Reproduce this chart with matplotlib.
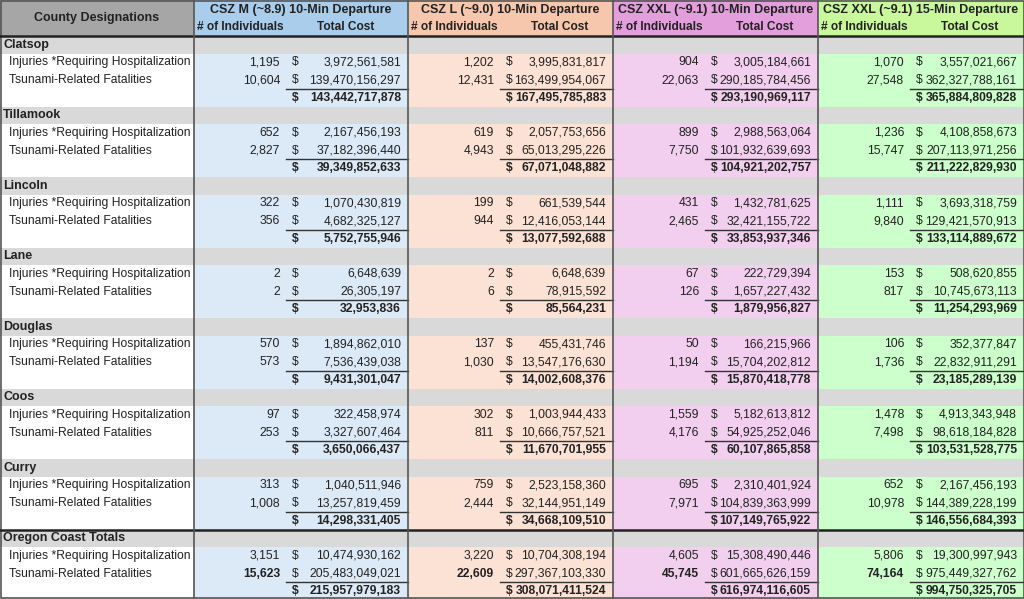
import matplotlib.pyplot as plt
import matplotlib.patches as pth

counties = ["Clatsop", "Tillamook", "Lincoln", "Lane", "Douglas", "Coos", "Curry", "Oregon Coast Totals"]
scenarios = ["CSZ M (~8.9) 10-Min Departure", "CSZ L (~9.0) 10-Min Departure",
             "CSZ XXL (~9.1) 10-Min Departure", "CSZ XXL (~9.1) 15-Min Departure"]
row_labels = ["Injuries *Requiring Hospitalization", "Tsunami-Related Fatalities"]

# per scenario, per county: injuries count, injuries cost, fatalities count, fatalities cost, total
inj_n = [
    [1195, 652, 322, 2, 570, 97, 313, 3151],
    [1202, 619, 199, 2, 137, 302, 759, 3220],
    [904, 899, 431, 67, 50, 1559, 695, 4605],
    [1070, 1236, 1111, 153, 106, 1478, 652, 5806],
]
inj_cost = [
    [3972561581, 2167456193, 1070430819, 6648639, 1894862010, 322458974, 1040511946, 10474930162],
    [3995831817, 2057753656, 661539544, 6648639, 455431746, 1003944433, 2523158360, 10704308194],
    [3005184661, 2988563064, 1432781625, 222729394, 166215966, 5182613812, 2310401924, 15308490446],
    [3557021667, 4108858673, 3693318759, 508620855, 352377847, 4913343948, 2167456193, 19300997943],
]
fat_n = [
    [10604, 2827, 356, 2, 573, 253, 1008, 15623],
    [12431, 4943, 944, 6, 1030, 811, 2444, 22609],
    [22063, 7750, 2465, 126, 1194, 4176, 7971, 45745],
    [27548, 15747, 9840, 817, 1736, 7498, 10978, 74164],
]
fat_cost = [
    [139470156297, 37182396440, 4682325127, 26305197, 7536439038, 3327607464, 13257819459, 205483049021],
    [163499954067, 65013295226, 12416053144, 78915592, 13547176630, 10666757521, 32144951149, 297367103330],
    [290185784456, 101932639693, 32421155722, 1657227432, 15704202812, 54925252046, 104839363999, 601665626159],
    [362327788161, 207113971256, 129421570913, 10745673113, 22832911291, 98618184828, 144389228199, 975449327762],
]
totals = [
    [143442717878, 39349852633, 5752755946, 32953836, 9431301047, 3650066437, 14298331405, 215957979183],
    [167495785883, 67071048882, 13077592688, 85564231, 14002608376, 11670701955, 34668109510, 308071411524],
    [293190969117, 104921202757, 33853937346, 1879956827, 15870418778, 60107865858, 107149765922, 616974116605],
    [365884809828, 211222829930, 133114889672, 11254293969, 23185289139, 103531528775, 146556684393, 994750325705],
]

col_edges = [0, 194, 408, 613, 818, 1024]
head_colors = ["#A9CDEB", "#F6C7AC", "#E39FDC", "#C8F79C"]
body_colors = ["#DCE9F6", "#FBE2D5", "#F2CFEE", "#CCFFCC"]
gray = "#D9D9D9"
W, H = 1024, 599
header_h = 36
block_h = 70.5
row_h = block_h / 4
fs = 8.7
font = "Liberation Sans"

fig = plt.figure(figsize=(W / 100, H / 100), dpi=100)
ax = fig.add_axes([0, 0, 1, 1])
ax.set_xlim(0, W)
ax.set_ylim(H, 0)
ax.axis("off")


def rect(x0, y0, x1, y1, color):
    ax.add_patch(pth.Rectangle((x0, y0), x1 - x0, y1 - y0, facecolor=color, edgecolor="none"))


def txt(x, y, s, ha="left", bold=False, size=fs):
    ax.text(x, y, s, ha=ha, va="center", fontsize=size, family=font,
            fontweight="bold" if bold else "normal", color="#222222")


# header
rect(0, 0, col_edges[1], header_h, "#A6A6A6")
txt(col_edges[1] / 2, header_h / 2, "County Designations", ha="center", bold=True, size=9)
for s in range(4):
    x0, x1 = col_edges[s + 1], col_edges[s + 2]
    rect(x0, 0, x1, header_h, head_colors[s])
    rect(x0, header_h, x1, H, body_colors[s])
    txt((x0 + x1) / 2, 10, scenarios[s], ha="center", bold=True, size=9)
    txt(x0 + 46, 27, "# of Individuals", ha="center", bold=True, size=8.6)
    txt(x0 + 152, 27, "Total Cost", ha="center", bold=True, size=8.6)

for c, name in enumerate(counties):
    y0 = header_h + c * block_h
    rect(0, y0, W, y0 + row_h, gray)
    txt(3, y0 + row_h / 2, name, bold=True, size=9)
    ys = [y0 + row_h * 1.5, y0 + row_h * 2.5, y0 + row_h * 3.5]
    txt(9, ys[0], row_labels[0])
    txt(9, ys[1], row_labels[1])
    last = c == len(counties) - 1
    for s in range(4):
        x0, x1 = col_edges[s + 1], col_edges[s + 2]
        nx, dx, vx = x0 + 86, x0 + 98, x1 - 7
        txt(nx, ys[0], f"{inj_n[s][c]:,}", ha="right")
        txt(dx, ys[0], "$")
        txt(vx, ys[0], f"{inj_cost[s][c]:,}", ha="right")
        txt(nx, ys[1], f"{fat_n[s][c]:,}", ha="right", bold=last)
        txt(dx, ys[1], "$")
        txt(vx, ys[1], f"{fat_cost[s][c]:,}", ha="right")
        txt(dx, ys[2], "$", bold=True)
        txt(vx, ys[2], f"{totals[s][c]:,}", ha="right", bold=True)
        yl = y0 + row_h * 3
        ax.plot([nx + 6, x1], [yl, yl], color="#333333", lw=1)

# grid lines
ax.plot([0, W], [header_h, header_h], color="#222222", lw=1.8)
yo = header_h + 7 * block_h
ax.plot([0, W], [yo, yo], color="#222222", lw=1.8)
for x in col_edges[1:-1]:
    ax.plot([x, x], [0, H], color="#555555", lw=1.2)
ax.add_patch(pth.Rectangle((0.5, 0.5), W - 1, H - 1.5, facecolor="none", edgecolor="#555555", lw=1.2))

fig.savefig("out.png", dpi=100)
